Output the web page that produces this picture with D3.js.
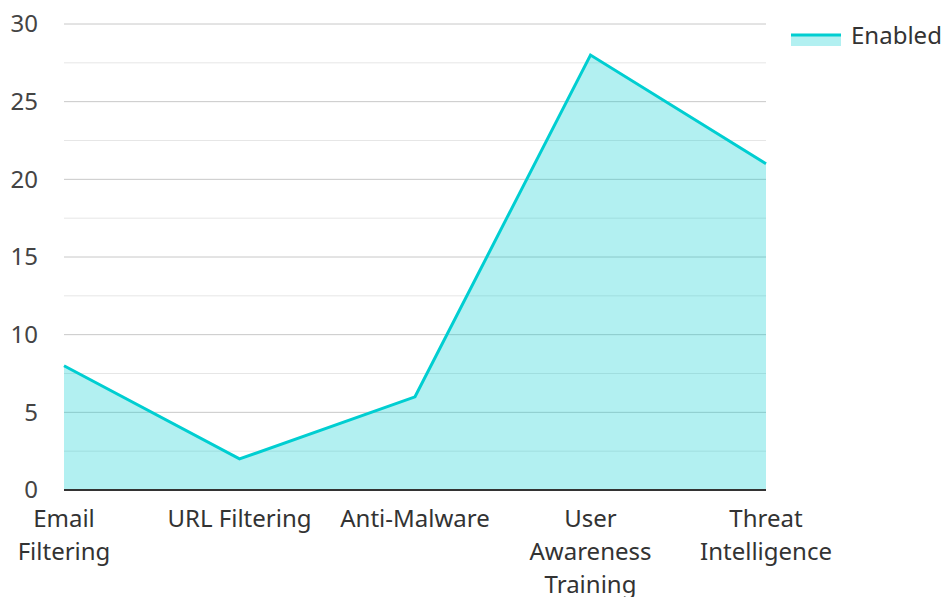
<!DOCTYPE html>
<html><head><meta charset="utf-8">
<script src="https://cdn.jsdelivr.net/npm/d3@7"></script>
<style>body{margin:0;background:#fff;} text{font-family:"Noto Sans",sans-serif;}</style>
</head><body>
<svg id="chart" width="947" height="597"></svg>
<script>
const categories = [["Email","Filtering"],["URL Filtering"],["Anti-Malware"],["User","Awareness","Training"],["Threat","Intelligence"]];
const enabledValues = [8, 2, 6, 28, 21];
const yTicks = [0, 5, 10, 15, 20, 25, 30];
const minorTicks = [2.5, 7.5, 12.5, 17.5, 22.5, 27.5];
const seriesName = "Enabled";

(function(){
const svg = d3.select("#chart");
const pl = 64, pr = 766, pt = 24, pb = 490;
const x = d3.scalePoint().domain(d3.range(categories.length)).range([pl, pr]);
const y = d3.scaleLinear().domain([0, 30]).range([pb, pt]);
const color = "#00CED1";

svg.append("g").selectAll("line").data(minorTicks).join("line")
  .attr("x1", pl).attr("x2", pr).attr("y1", d => y(d)).attr("y2", d => y(d))
  .attr("stroke", "#e6e6e6").attr("stroke-width", 1);
svg.append("g").selectAll("line").data(yTicks.filter(d => d > 0)).join("line")
  .attr("x1", pl).attr("x2", pr).attr("y1", d => y(d)).attr("y2", d => y(d))
  .attr("stroke", "#c8c8c8").attr("stroke-width", 1);

const area = d3.area().x((d, i) => x(i)).y0(y(0)).y1(d => y(d));
const line = d3.line().x((d, i) => x(i)).y(d => y(d));
svg.append("path").datum(enabledValues).attr("d", area).attr("fill", color).attr("fill-opacity", 0.3);
svg.append("path").datum(enabledValues).attr("d", line).attr("fill", "none").attr("stroke", color).attr("stroke-width", 3).attr("stroke-linejoin", "miter");

svg.append("line").attr("x1", pl).attr("x2", pr).attr("y1", y(0)).attr("y2", y(0)).attr("stroke", "#333").attr("stroke-width", 2);

svg.append("g").selectAll("text").data(yTicks).join("text")
  .attr("x", 38).attr("y", d => y(d)).attr("dy", "0.35em").attr("text-anchor", "end")
  .attr("font-size", 24).attr("fill", "#444").text(d => d);

const xl = svg.append("g").selectAll("text").data(categories).join("text")
  .attr("x", (d, i) => x(i)).attr("y", 527).attr("text-anchor", "middle").attr("font-size", 24).attr("fill", "#333");
xl.each(function(d, i) {
  d3.select(this).selectAll("tspan").data(d).join("tspan")
    .attr("x", x(i)).attr("dy", (t, j) => j === 0 ? "0" : "33px").text(t => t);
});

const lg = svg.append("g");
lg.append("rect").attr("x", 791).attr("y", 34).attr("width", 50).attr("height", 12).attr("fill", color).attr("fill-opacity", 0.3);
lg.append("line").attr("x1", 791).attr("x2", 841).attr("y1", 35).attr("y2", 35).attr("stroke", color).attr("stroke-width", 3);
lg.append("text").attr("x", 851).attr("y", 36).attr("dy", "0.35em").attr("font-size", 24).attr("fill", "#333").text(seriesName);
})();
</script>
</body></html>
